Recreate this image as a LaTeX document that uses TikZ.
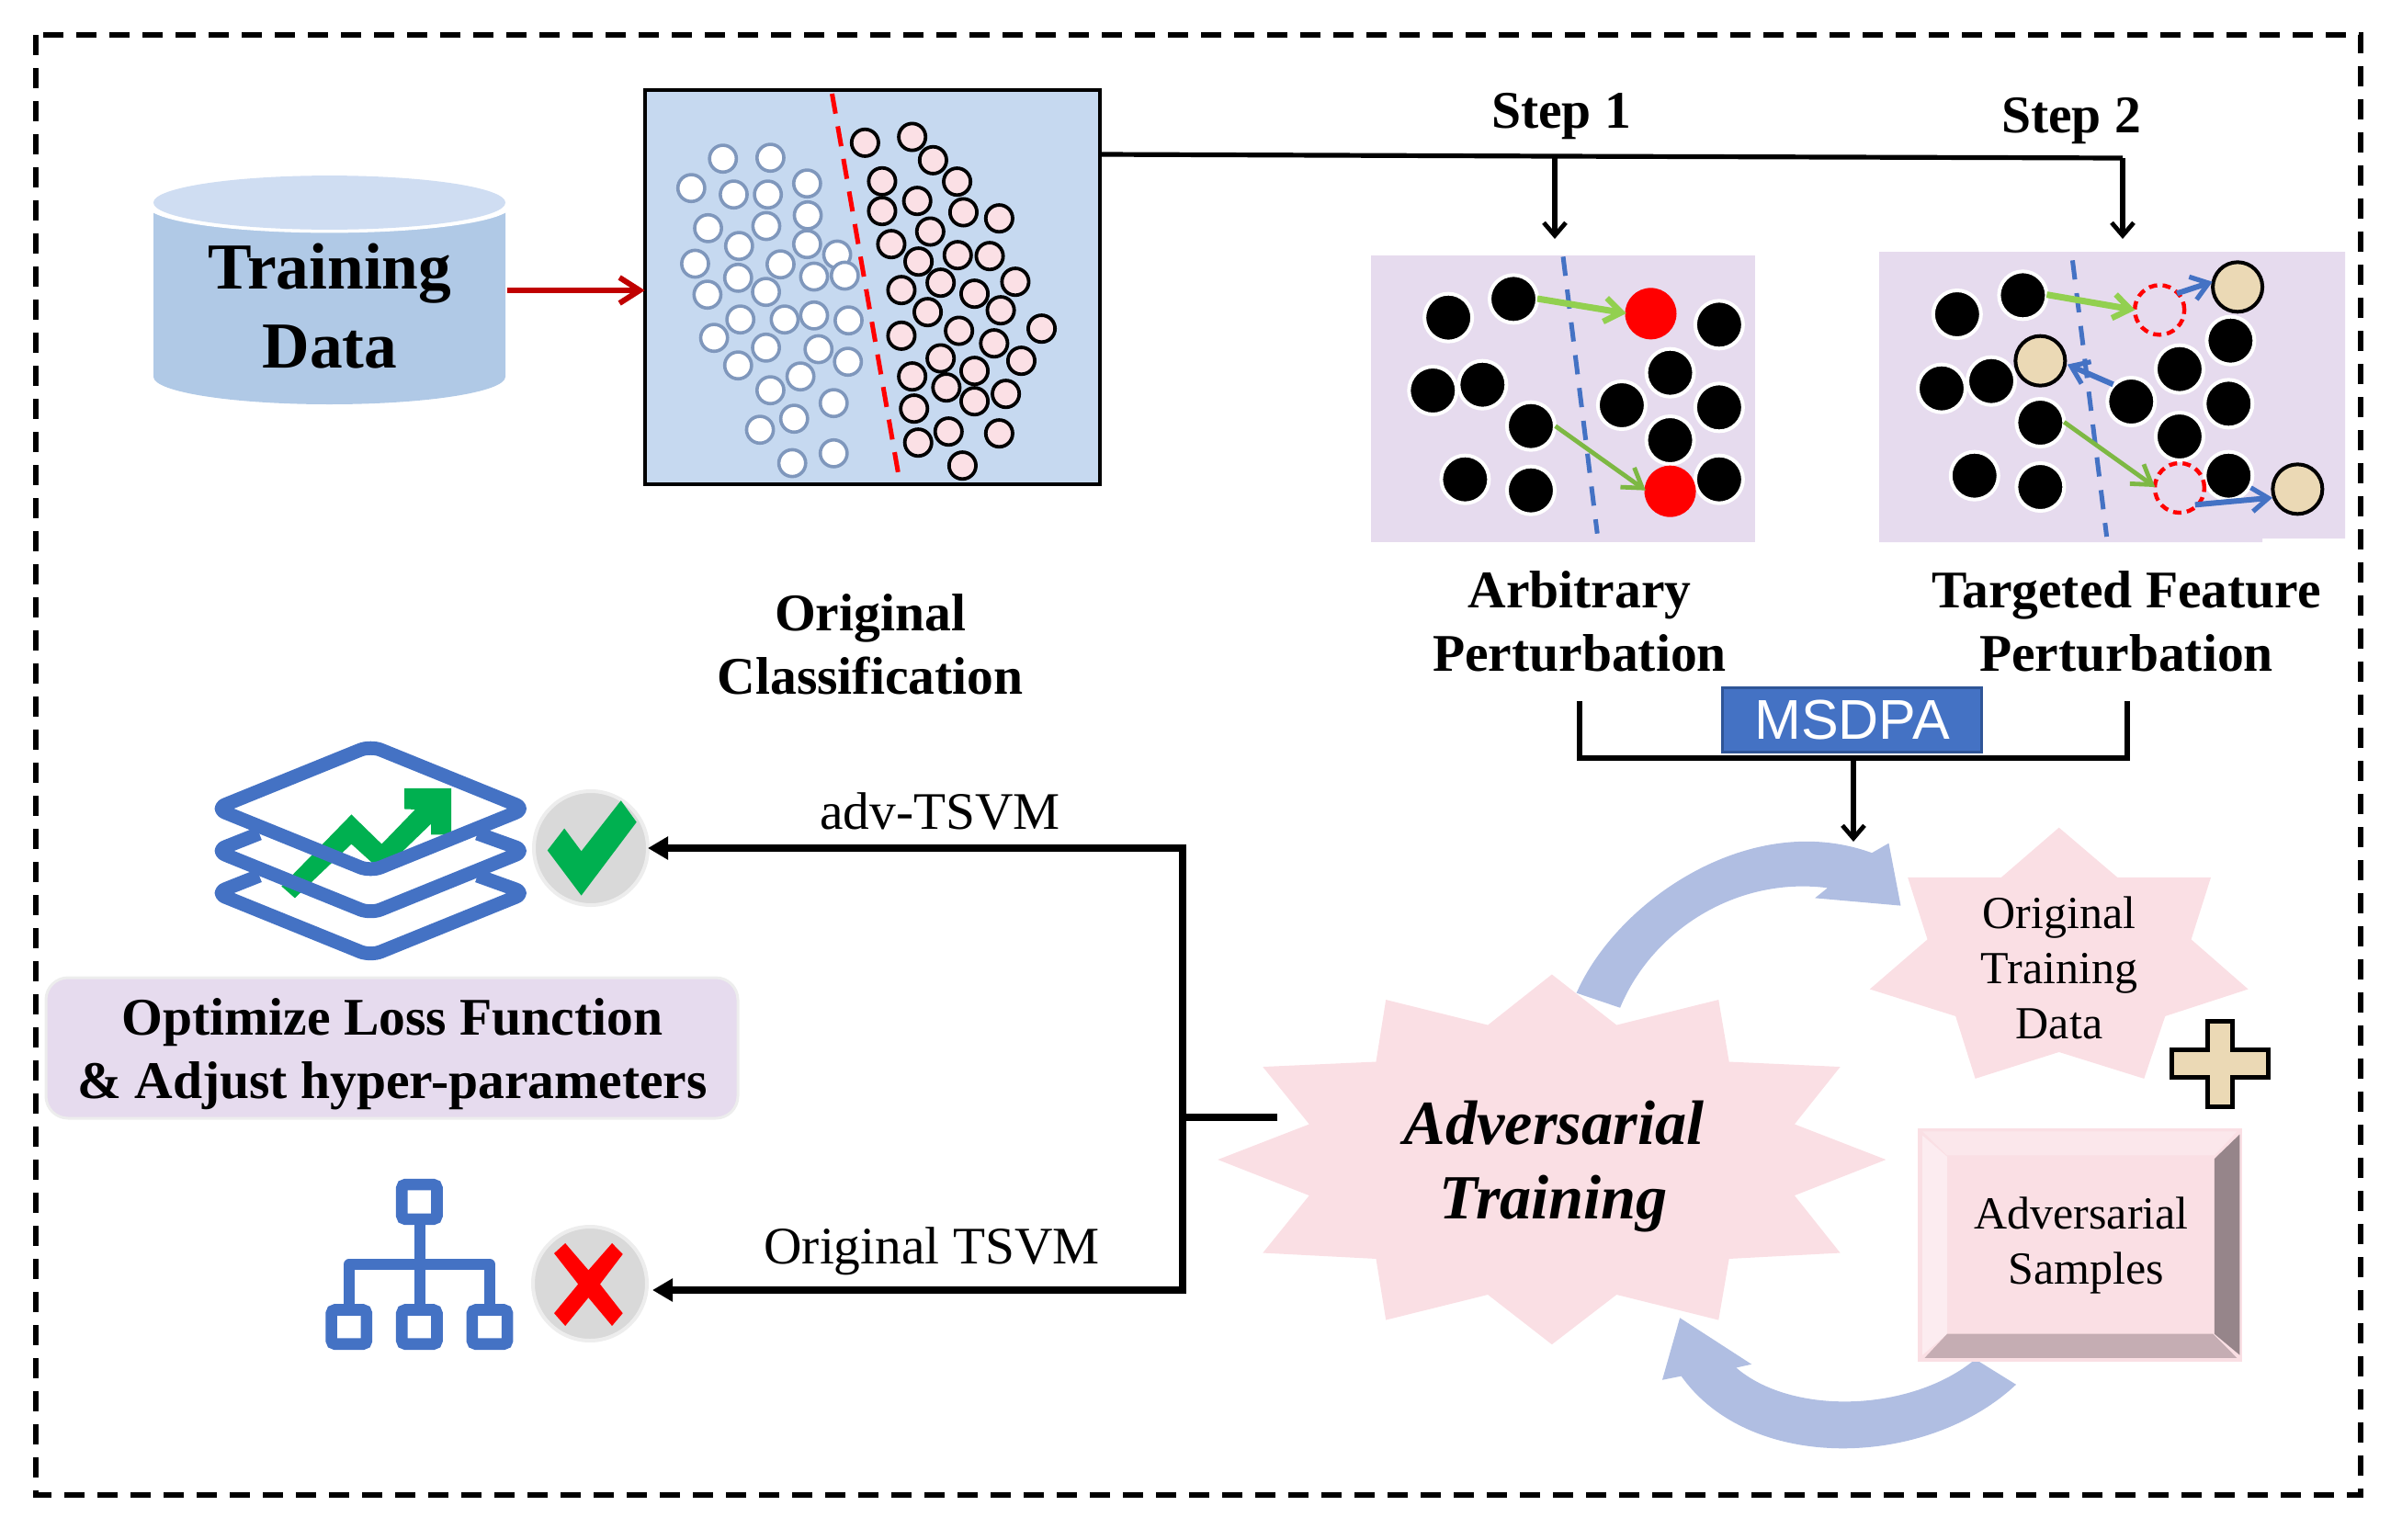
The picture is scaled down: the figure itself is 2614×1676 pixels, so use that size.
\documentclass[tikz,border=0pt]{standalone}
\usepackage{fontspec}
\setmainfont{Liberation Serif}
\setsansfont{Liberation Sans}
\usetikzlibrary{arrows.meta}
\definecolor{cobalt}{HTML}{4472C4}
\definecolor{cobaltdk}{HTML}{2F5597}
\definecolor{paneb}{HTML}{C6D9F0}
\definecolor{panep}{HTML}{E6DBEE}
\definecolor{pinkf}{HTML}{FADFE4}
\definecolor{tan1}{HTML}{EBD9B5}
\definecolor{arcb}{HTML}{B0BEE2}
\definecolor{gr1}{HTML}{92D050}
\definecolor{gr2}{HTML}{7DB843}
\definecolor{gr3}{HTML}{00B050}
\definecolor{dkred}{HTML}{C00000}
\definecolor{ringb}{HTML}{7F97BC}
\definecolor{ptpink}{HTML}{FBE0E5}
\definecolor{grayc}{HTML}{D9D9D9}
\tikzset{
  lab/.style={inner sep=0pt,outer sep=0pt,align=center,text=black},
  boldlab/.style={lab,font=\fontsize{28.8pt}{34.5pt}\selectfont\bfseries},
  planlab/.style={lab,font=\fontsize{28.7pt}{34pt}\selectfont},
  smalllab/.style={lab,font=\fontsize{25pt}{30pt}\selectfont},
  tdlab/.style={lab,font=\fontsize{35.7pt}{43pt}\selectfont\bfseries},
  advlab/.style={lab,font=\fontsize{34.2pt}{40.5pt}\selectfont\bfseries\itshape},
  blackline/.style={draw=black,line width=2.6pt},
  openhead/.style={-{Straight Barb[length=7pt,width=12pt,line width=2.4pt]}},
  heavyline/.style={draw=black,line width=3.6pt},
  solidhead/.style={-{Stealth[length=11pt,width=12pt,inset=0pt]}},
  blackdot/.style={fill=black,draw=white,line width=2pt},
  tandot/.style={fill=tan1,draw=black,line width=2pt},
  reddash/.style={draw=red,line width=2.2pt,dash pattern=on 4.5pt off 3pt},
  divide/.style={draw=cobalt,line width=2.5pt,dash pattern=on 10.5pt off 7.5pt},
  thickgreen/.style={draw=gr1,line width=3.5pt,-{Straight Barb[length=9pt,width=13pt,line width=3.2pt]}},
  thingreen/.style={draw=gr2,line width=2.4pt,-{Straight Barb[length=10pt,width=13pt,line width=2.4pt]}},
  bluearrow/.style={draw=cobalt,line width=3pt,-{Straight Barb[length=9pt,width=13pt,line width=2.6pt]}},
  badge/.style={circle,fill=grayc,draw=white!93!black,line width=2pt,minimum size=62pt,inner sep=0pt,outer sep=0pt},
  layer/.style={draw=cobalt,line width=7.5pt,rounded corners=6pt,line join=round},
  hier/.style={draw=cobalt,fill=white,line width=6.3pt,rounded corners=2pt},
}
\begin{document}
\begin{tikzpicture}[x=.5pt,y=-.5pt]
\useasboundingbox (0,0) rectangle (2614,1676);
% frame
\draw[black,line width=3pt,dash pattern=on 11pt off 7pt] (39,38) rectangle (2569,1627);

% cylinder
\fill[color={rgb,255:red,176;green,201;blue,230}] (167,222) -- (167,410) arc[start angle=180,end angle=360,x radius=95.75pt,y radius=15pt] -- (550,222) -- cycle;
\fill[white] (358.5,224) ellipse[x radius=99pt,y radius=14.7pt];
\fill[color={rgb,255:red,207;green,221;blue,242}] (358.5,220.5) ellipse[x radius=95.75pt,y radius=14.7pt];
\node[tdlab] (tdata) at (359,333) {Training\\Data};
\coordinate (cylE) at (552,316);

% original classification
\node[rectangle,fill=paneb,draw=black,line width=2pt,minimum width=247.75pt,minimum height=214.5pt,inner sep=0pt,outer sep=0pt] (orig) at (949.5,312.5) {};
\draw[draw=dkred,line width=3pt,-{Straight Barb[length=11pt,width=14pt,line width=3pt]}] (cylE) -- (orig.west |- cylE);
\draw[red,line width=2.5pt,dash pattern=on 11pt off 7pt] (905.5,102) -- (979.6,527);
\begin{scope}[shift={(680,80)},x=.17218pt,y=-.16667pt]
\foreach \a/\b in {310/278,460/275,210/374,344/395,452/395,576/359,578/463,263/505,447/498,361/563,576/557,671/591,222/621,492/623,358/667,598/663,695/660,446/713,261/722,365/803,505/803,598/790,707/806,282/863,446/895,612/900,358/953,705/941,555/989,460/1034,660/1076,535/1127,427/1163,660/1240,529/1272}
  \draw[fill=white,draw=ringb,line width=1.8pt] (\a,\b) circle[radius=7.3pt];
\foreach \a/\b in {759/226,908/207,974/283,813/352,1050/353,924/416,813/449,1070/453,1183/473,965/516,842/557,928/614,1052/593,1153/596,998/683,874/707,1234/680,1105/719,957/779,1188/773,874/856,1056/840,1317/833,1167/881,998/930,1253/938,908/989,1105/971,1016/1025,1105/1070,1204/1046,914/1094,1023/1169,1183/1175,927/1205,1067/1280}
  \draw[fill=ptpink,draw=black,line width=1.9pt] (\a,\b) circle[radius=7.3pt];
\end{scope}
\node[boldlab] (origlab) at (947,701) {Original\\Classification};

% panels
\node[rectangle,fill=panep,minimum width=209pt,minimum height=156pt,inner sep=0pt,outer sep=0pt] (panelA) at (1701,434) {};
\fill[panep] (2045,274) -- (2552,274) -- (2552,586) -- (2462,586) -- (2462,590) -- (2045,590) -- cycle;
\coordinate (panelB) at (2310,274);

\begin{scope}[shift={(1480,250)},x=.35088pt,y=-.16667pt]
\draw[divide] (315,88) -- (368,992);
\foreach \a/\b in {137/287,238/226,113/525,190/506,265/641,406/573,481/467,557/310,557/580,481/687,163/815,265/851,557/815}
  \draw[blackdot] (\a,\b) circle[radius=13pt];
\fill[red] (451,274) circle[radius=14pt];
\fill[red] (481,854) circle[radius=14pt];
\draw[thickgreen] (275,225) -- (413,273);
\draw[thingreen] (303,641) -- (443,851);
%
\draw[divide] (1105,100) -- (1158,1002);
\foreach \a/\b in {926/276,1028/214,902/518,979/494,1055/630,1196/561,1271/455,1350/362,1347/568,1271/675,953/803,1055/840,1347/803}
  \draw[blackdot] (\a,\b) circle[radius=13pt];
\foreach \a/\b in {1361/187,1055/428,1454/847}
  \draw[tandot] (\a,\b) circle[radius=13.5pt];
\draw[reddash] (1240,262) circle[radius=13.5pt];
\draw[reddash] (1271,843) circle[radius=13.5pt];
\draw[thickgreen] (1065,212) -- (1202,262);
\draw[thingreen] (1092,628) -- (1233,840);
\draw[bluearrow] (1267,208) -- (1322,170);
\draw[bluearrow] (1168,505) -- (1097,440);
\draw[bluearrow] (1295,898) -- (1415,875);
\end{scope}

% step line
\coordinate (stepS) at (1198,168);
\coordinate (stepA) at (1692,170);
\coordinate (stepB) at (2310,172);
\draw[blackline] (stepS) -- (stepA) -- (stepB);
\draw[blackline,openhead,shorten >=9pt] (stepA) -- (panelA.north -| stepA);
\draw[blackline,openhead,shorten >=7pt] (stepB) -- (panelB);
\node[boldlab] (step1) at (1699,127) {Step 1};
\node[boldlab] (step2) at (2254,132) {Step 2};
\node[boldlab] (perA) at (1719,676) {Arbitrary\\Perturbation};
\node[boldlab] (perT) at (2314,676) {Targeted Feature\\Perturbation};

% MSDPA
\coordinate (brL) at (1719,763);
\coordinate (brLb) at (1719,825);
\coordinate (brR) at (2315,763);
\coordinate (brRb) at (2315,825);
\coordinate (brM) at (2017,825);
\coordinate (brT) at (2017,916);
\draw[blackline] (brL) -- (brLb) -- (brRb) -- (brR);
\draw[blackline,openhead] (brM) -- (brT);
\node[rectangle,fill=cobalt,draw=cobaltdk,line width=1.5pt,minimum width=141pt,minimum height=35pt,inner sep=0pt,outer sep=0pt,text=white,font=\fontsize{30.5pt}{34pt}\selectfont\sffamily] (msdpa) at (2015.5,783) {MSDPA};

% adversarial cycle
\begin{scope}[shift={(1300,880)},x=.3827pt,y=-.2296pt]
\fill[arcb] (543,437) .. controls (600,220) and (790,0) .. (963,105) -- (987,82) -- (1004,230) -- (882,212) -- (900,188) .. controls (770,160) and (650,290) .. (605,472) -- cycle;
\fill[arcb] (1168,1365) .. controls (1040,1565) and (790,1575) .. (692,1345) -- (665,1354) -- (690,1207) -- (792,1317) -- (770,1325) .. controls (850,1440) and (1020,1430) .. (1110,1305) -- cycle;
\fill[pinkf] (508,393) -- (600,513) -- (745,453) -- (760,600) -- (918,612) -- (853,748) -- (983,832) -- (853,917) -- (918,1053) -- (760,1067) -- (745,1212) -- (600,1152) -- (508,1270) -- (417,1152) -- (272,1212) -- (258,1067) -- (97,1053) -- (163,917) -- (33,832) -- (163,748) -- (97,612) -- (258,600) -- (272,453) -- (417,513) -- cycle;
\fill[pinkf] (1229,45) -- (1312,163) -- (1445,163) -- (1417,310) -- (1498,428) -- (1380,492) -- (1350,640) -- (1229,577) -- (1110,640) -- (1082,492) -- (960,428) -- (1042,310) -- (1014,163) -- (1147,163) -- cycle;
% plus
\draw[fill=tan1,draw=black,line width=2.5pt,miter limit=4] (1440,505) -- (1476,505) -- (1476,572) -- (1527,572) -- (1527,638) -- (1476,638) -- (1476,707) -- (1440,707) -- (1440,638) -- (1390,638) -- (1390,572) -- (1440,572) -- cycle;
% bevel
\fill[pinkf] (1028,757) rectangle (1490,1310);
\fill[color={rgb,255:red,251;green,231;blue,235}] (1035,765) -- (1482,765) -- (1450,822) -- (1070,822) -- cycle;
\fill[color={rgb,255:red,252;green,236;blue,240}] (1035,775) -- (1070,825) -- (1070,1245) -- (1035,1295) -- cycle;
\fill[color={rgb,255:red,150;green,133;blue,138}] (1450,830) -- (1486,772) -- (1486,1295) -- (1450,1245) -- cycle;
\fill[color={rgb,255:red,197;green,173;blue,179}] (1070,1245) -- (1448,1245) -- (1482,1302) -- (1038,1302) -- cycle;
\end{scope}
\node[advlab] (advt) at (1691,1270) {Adversarial\\Training};
\node[smalllab] (otd) at (2241,1053) {Original\\Training\\Data};
\node[smalllab] (advs) at (2265,1355) {Adversarial\\\hspace*{5pt}Samples};

% left connector
\coordinate (jS) at (1390,1216);
\coordinate (jM) at (1287,1216);
\coordinate (jT) at (1287,923);
\coordinate (jB) at (1287,1404);
\draw[heavyline] (jS) -- (jM);
\node[badge] (okb) at (643,923) {};
\node[badge] (nob) at (642,1397) {};
\draw[heavyline,solidhead] (jM) -- (jT) -- (okb.east);
\draw[heavyline,solidhead,shorten >=3pt] (jM) -- (jB) -- (nob.east |- jB);
\node[planlab] (lab1) at (1023,883) {adv-TSVM};
\node[planlab] (lab2) at (1014,1362) {Original TSVM};

% optimize box
\node[rectangle,rounded corners=12pt,fill=panep,draw=white!93!black,line width=1.5pt,minimum width=376.5pt,minimum height=76.5pt,inner sep=0pt,outer sep=0pt] (optbox) at (426.5,1140.5) {};
\node[boldlab] (optlab) at (427,1147) {Optimize Loss Function\\\& Adjust hyper-parameters};

% icons
\begin{scope}[shift={(30,790)},x=.2424pt,y=-.2296pt]
\fill[gr3] (570,380) -- (727,210) -- (795,280) -- (870,198) -- (846,197) -- (846,148) -- (951,148) -- (951,258) -- (906,258) -- (906,232) -- (795,345) -- (727,280) -- (600,408) -- cycle;
\draw[layer] (520,355) -- (422,396) -- (770,545) -- (1118,396) -- (1010,355);
\draw[layer] (520,255) -- (422,296) -- (770,445) -- (1118,296) -- (1010,255);
\draw[layer] (422,196) -- (770,47) -- (1118,196) -- (770,345) -- cycle;
\fill[gr3] (1167,295) -- (1205,243) -- (1243,297) -- (1332,177) -- (1367,228) -- (1243,402) -- cycle;
\fill[red] (1182,1250) -- (1207,1226) -- (1259,1290) -- (1312,1226) -- (1336,1252) -- (1285,1323) -- (1336,1392) -- (1312,1422) -- (1259,1355) -- (1207,1422) -- (1182,1392) -- (1236,1323) -- cycle;
% hierarchy
\draw[cobalt,line width=6pt] (880,1170) -- (880,1385);
\draw[cobalt,line width=6pt,line join=round] (722,1385) -- (722,1276) -- (1037,1276) -- (1037,1385);
\draw[hier] (840,1087) rectangle (919,1169);
\draw[hier] (682,1384) rectangle (761,1465);
\draw[hier] (840,1384) rectangle (919,1465);
\draw[hier] (998,1384) rectangle (1077,1465);
\end{scope}
\end{tikzpicture}
\end{document}
